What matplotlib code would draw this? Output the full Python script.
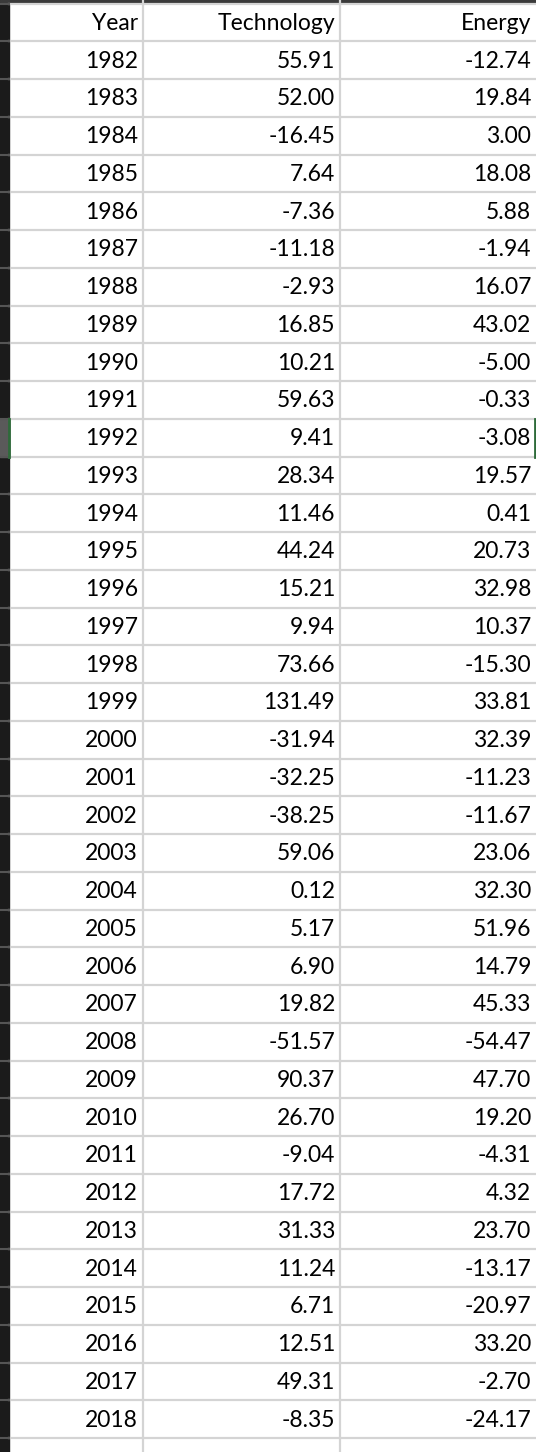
"""Spreadsheet screenshot: yearly Technology vs Energy returns."""
import matplotlib
matplotlib.use("Agg")
import matplotlib.pyplot as plt

headers = ["Year", "Technology", "Energy"]
years = list(range(1982, 2019))
technology = [55.91, 52.00, -16.45, 7.64, -7.36, -11.18, -2.93, 16.85, 10.21, 59.63,
              9.41, 28.34, 11.46, 44.24, 15.21, 9.94, 73.66, 131.49, -31.94, -32.25,
              -38.25, 59.06, 0.12, 5.17, 6.90, 19.82, -51.57, 90.37, 26.70, -9.04,
              17.72, 31.33, 11.24, 6.71, 12.51, 49.31, -8.35]
energy = [-12.74, 19.84, 3.00, 18.08, 5.88, -1.94, 16.07, 43.02, -5.00, -0.33,
          -3.08, 19.57, 0.41, 20.73, 32.98, 10.37, -15.30, 33.81, 32.39, -11.23,
          -11.67, 23.06, 32.30, 51.96, 14.79, 45.33, -54.47, 47.70, 19.20, -4.31,
          4.32, 23.70, -13.17, -20.97, 33.20, -2.70, -24.17]

W, H = 536, 1452
fig = plt.figure(figsize=(W / 100, H / 100), dpi=100)
ax = fig.add_axes([0, 0, 1, 1])
ax.set_xlim(0, W)
ax.set_ylim(H, 0)
ax.axis("off")

top = 3.5
row_h = 37.75
col_edges = [9, 143, 340, 536]
text_right = [138, 335, 531]
grid = "#d4d4d4"
font = dict(family=["Lato", "DejaVu Sans"], fontsize=16.5, color="black")

rows = [headers] + [[str(y), f"{t:.2f}", f"{e:.2f}"] for y, t, e in zip(years, technology, energy)]
n = len(rows)

# gridlines
for i in range(n + 1):
    y = top + i * row_h
    ax.plot([col_edges[0], W], [y, y], color=grid, lw=1.6)
for x in col_edges[1:3]:
    ax.plot([x, x], [0, H], color=grid, lw=1.6)

# dark row-header strip on the left and top
ax.add_patch(plt.Rectangle((0, 0), 9, H, color="#1b1b1b"))
ax.add_patch(plt.Rectangle((0, 0), W, 2, color="#3a3a3a"))
for i in range(n + 1):
    y = top + i * row_h
    ax.plot([0, 9], [y, y], color="#555555", lw=1.5)

# selected cell marker (1992 row)
sel = years.index(1992) + 1
ax.add_patch(plt.Rectangle((0, top + sel * row_h), 9, row_h, color="#5a5a5a"))
ax.plot([9, 9], [top + sel * row_h, top + (sel + 1) * row_h], color="#2e6b3a", lw=2)
ax.plot([534.5, 534.5], [top + sel * row_h, top + (sel + 1) * row_h], color="#2e6b3a", lw=2)

for i, row in enumerate(rows):
    yc = top + (i + 0.5) * row_h + 1
    for j, txt in enumerate(row):
        ax.text(text_right[j], yc, txt, ha="right", va="center", **font)

fig.savefig("out.png", dpi=100)
